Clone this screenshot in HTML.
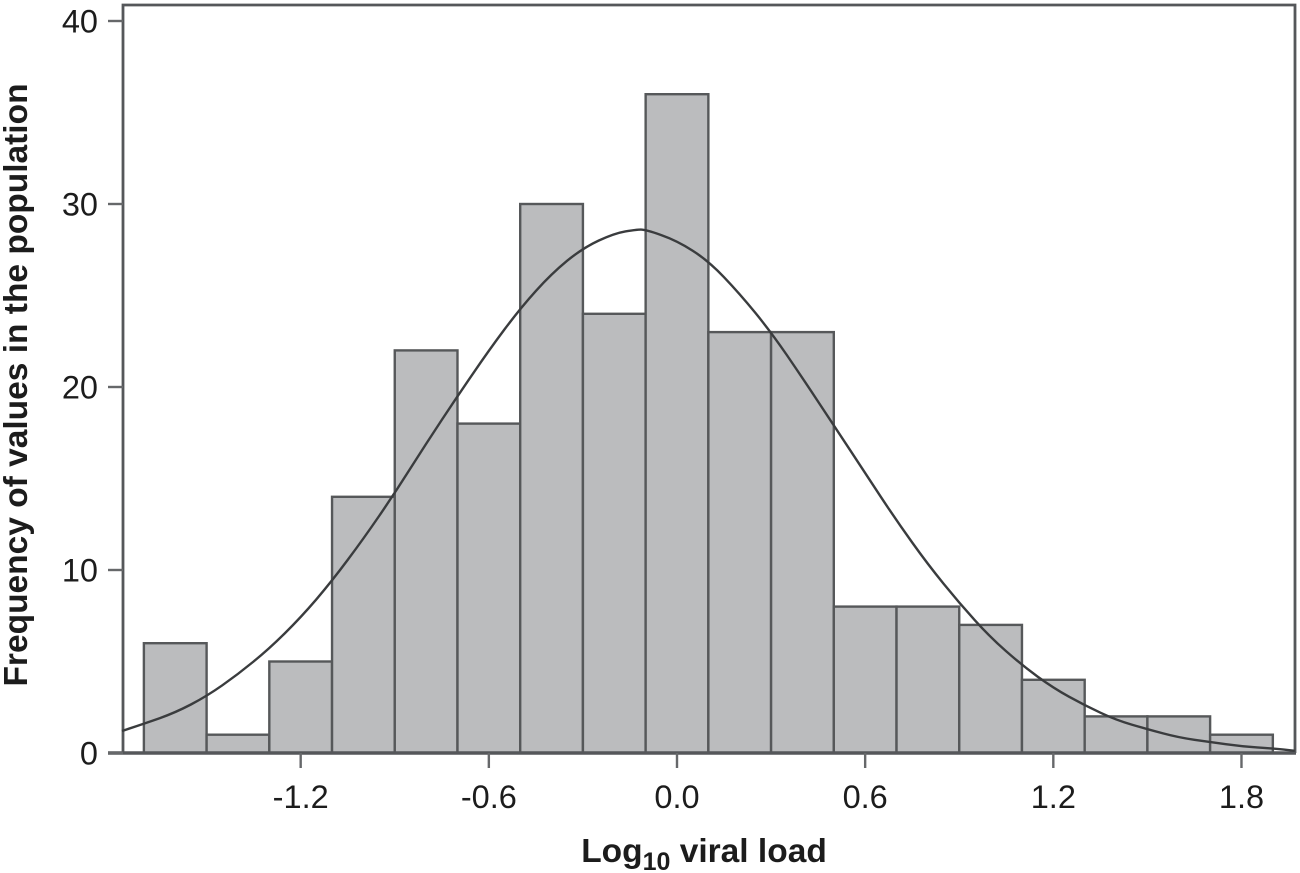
<!DOCTYPE html>
<html lang="en">
<head>
<meta charset="utf-8">
<title>Log10 viral load histogram</title>
<style>
html,body{margin:0;padding:0;background:#fff;}
svg{display:block;}
text{font-family:"Liberation Sans",Arial,sans-serif;fill:#1c1c1c;}
.tick{font-size:32.5px;}
.title{font-size:33.5px;font-weight:bold;}
</style>
</head>
<body>
<svg id="chart" width="1300" height="873" viewBox="0 0 1300 873" xmlns="http://www.w3.org/2000/svg"></svg>
<script>
// Histogram data
const binEdgeStart = -1.7;
const binWidth = 0.2;
const binCounts = [6, 1, 5, 14, 22, 18, 30, 24, 36, 23, 23, 8, 8, 7, 4, 2, 2, 1];
// Fitted curve
const curveX = [-1.77,-1.7,-1.6,-1.5,-1.4,-1.3,-1.2,-1.1,-1.0,-0.9,-0.8,-0.7,-0.6,-0.5,-0.4,-0.3,-0.2,-0.13,-0.1,0.0,0.1,0.2,0.3,0.4,0.5,0.6,0.7,0.8,0.9,1.0,1.1,1.2,1.3,1.4,1.5,1.6,1.7,1.8,1.9,1.97];
const curveY = [1.2,1.6,2.2,3.1,4.3,5.7,7.4,9.4,11.7,14.2,16.9,19.5,22.0,24.3,26.2,27.6,28.4,28.6,28.6,28.0,26.9,25.1,23.0,20.5,17.9,15.3,12.7,10.3,8.2,6.3,4.8,3.55,2.6,1.8,1.3,0.84,0.6,0.36,0.25,0.12];
// Axis ticks
const xTicks = [-1.2, -0.6, 0.0, 0.6, 1.2, 1.8];
const xTickLabels = ["-1.2", "-0.6", "0.0", "0.6", "1.2", "1.8"];
const yTicks = [0, 10, 20, 30, 40];
const yTickLabels = ["0", "10", "20", "30", "40"];

const NS = "http://www.w3.org/2000/svg";
const svg = document.getElementById("chart");
const xScale = v => 677 + v * 313.6;
const yScale = v => 753 - v * 18.3;
const INK = "#56585a";

function make(tag, attrs, parent) {
  const el = document.createElementNS(NS, tag);
  for (const k in attrs) el.setAttribute(k, attrs[k]);
  (parent || svg).appendChild(el);
  return el;
}

// Bars
const barGroup = make("g", {});


binCounts.forEach((count, i) => {
  const x0 = xScale(binEdgeStart + i * binWidth);
  const x1 = xScale(binEdgeStart + (i + 1) * binWidth);
  const y = yScale(count);
  const bar = make("rect", {x: x0, y: y, width: x1 - x0, height: yScale(0) - y, fill: "#bbbcbe", stroke: INK, "stroke-width": 2.4}, barGroup);
  
  
});

// Frame
const frame = make("path", {d: "M123 753 V5 H1295 V753", fill: "none", stroke: "#55575a", "stroke-width": 2.8});


const xAxis = make("line", {x1: 108, x2: 1296, y1: yScale(0), y2: yScale(0), stroke: "#55575a", "stroke-width": 3.6});



// Curve, smoothed through the midpoints of the read values
const curvePts = curveX.map((v, i) => [xScale(v), yScale(curveY[i])]);
let curveD = "M" + curvePts[0][0].toFixed(1) + " " + curvePts[0][1].toFixed(1);
for (let i = 1; i < curvePts.length - 1; i++) {
  const mx = (curvePts[i][0] + curvePts[i + 1][0]) / 2;
  const my = (curvePts[i][1] + curvePts[i + 1][1]) / 2;
  curveD += " Q" + curvePts[i][0].toFixed(1) + " " + curvePts[i][1].toFixed(1) + " " + mx.toFixed(1) + " " + my.toFixed(1);
}
const lastPt = curvePts[curvePts.length - 1];
curveD += " L" + lastPt[0].toFixed(1) + " " + lastPt[1].toFixed(1);
const curve = make("path", {d: curveD, fill: "none", stroke: "#3a3c3e", "stroke-width": 2.4, "stroke-linejoin": "round"});



// X ticks
xTicks.forEach((v, i) => {
  const t = make("line", {x1: xScale(v), x2: xScale(v), y1: 753, y2: 768, stroke: "#66686a", "stroke-width": 2.4});
  
  
  const l = make("text", {x: xScale(v), y: 808, "text-anchor": "middle", "class": "tick"});
  l.textContent = xTickLabels[i];
  
  
});

// Y ticks
yTicks.forEach((v, i) => {
  const t = make("line", {x1: 108, x2: 123, y1: yScale(v), y2: yScale(v), stroke: "#66686a", "stroke-width": 2.4});
  
  
  const l = make("text", {x: 98, y: yScale(v) + 11.5, "text-anchor": "end", "class": "tick"});
  l.textContent = yTickLabels[i];
  
  
});
</script>
<svg style="position:absolute;left:0;top:0;" width="1300" height="873" viewBox="0 0 1300 873" xmlns="http://www.w3.org/2000/svg">
  <text class="title" x="704" y="862" text-anchor="middle">Log<tspan font-size="25" dy="8">10</tspan><tspan dy="-8"> viral load</tspan></text>
  <text class="title" transform="translate(27 385) rotate(-90)" text-anchor="middle">Frequency of values in the population</text>
</svg>
</body>
</html>
